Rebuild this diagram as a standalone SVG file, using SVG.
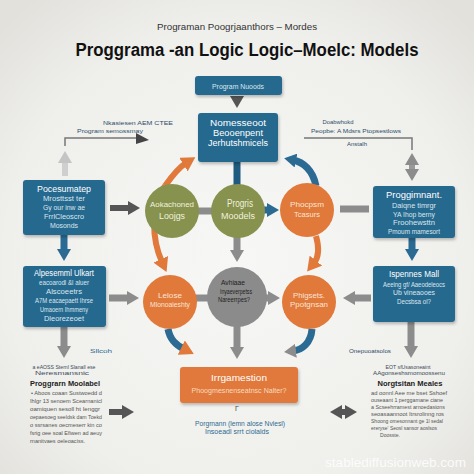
<svg xmlns="http://www.w3.org/2000/svg" width="474" height="474" viewBox="0 0 474 474">
<defs>
<radialGradient id="bg" cx="50%" cy="55%" r="70%">
<stop offset="0" stop-color="#f7f7f5"/>
<stop offset="0.7" stop-color="#efefec"/>
<stop offset="1" stop-color="#e2e1dc"/>
</radialGradient>
<marker id="ag" markerUnits="userSpaceOnUse" markerWidth="13" markerHeight="14" refX="3" refY="7" orient="auto"><path d="M0,0 L12,7 L0,14 z" fill="#8c8c8c"/></marker>
<marker id="ad" markerUnits="userSpaceOnUse" markerWidth="13" markerHeight="14" refX="3" refY="7" orient="auto"><path d="M0,0 L12,7 L0,14 z" fill="#555"/></marker>
<marker id="ab" markerUnits="userSpaceOnUse" markerWidth="13" markerHeight="14" refX="3" refY="7" orient="auto"><path d="M0,0 L12,7 L0,14 z" fill="#2b6a93"/></marker>
<marker id="ao" markerUnits="userSpaceOnUse" markerWidth="15" markerHeight="16" refX="3" refY="8" orient="auto"><path d="M0,0 L14,8 L0,16 z" fill="#e0793a"/></marker>
<marker id="al" markerUnits="userSpaceOnUse" markerWidth="13" markerHeight="14" refX="3" refY="7" orient="auto"><path d="M0,0 L12,7 L0,14 z" fill="#c4c4c4"/></marker>
<filter id="sh" x="-10%" y="-10%" width="130%" height="130%"><feDropShadow dx="1" dy="2" stdDeviation="1.5" flood-color="#000" flood-opacity="0.25"/></filter>
</defs>
<style>
text{font-family:"Liberation Sans",Arial,sans-serif;}
.box{fill:#27698f;filter:url(#sh);}
.bt{fill:#ffffff;font-size:8.5px;text-anchor:middle;}
.bb{fill:#dbe6ee;font-size:6.5px;text-anchor:middle;}
.ct{fill:#f1f1df;text-anchor:middle;}
.ot{fill:#fbe5d4;text-anchor:middle;}
.sm{fill:#2f4d66;font-size:6px;text-anchor:middle;}
.tx{fill:#555;font-size:5px;}
.hd{fill:#222;font-size:8px;font-weight:bold;text-anchor:middle;}
.sg{stroke:#8c8c8c;stroke-width:7;fill:none;}
.sd{stroke:#555;stroke-width:6;fill:none;}
.sb{stroke:#2b6a93;stroke-width:7;fill:none;}
.so{stroke:#e0793a;stroke-width:6;fill:none;}
</style>
<rect width="474" height="474" fill="url(#bg)"/>

<g id="title">
<text x="237" y="30" font-size="9" fill="#333" text-anchor="middle" textLength="160" lengthAdjust="spacingAndGlyphs">Programan Poogrjaanthors – Mordes</text>
<text x="247" y="56" font-size="17.5" font-weight="bold" fill="#111" text-anchor="middle" textLength="343" lengthAdjust="spacingAndGlyphs">Proggrama -an Logic Logic–Moelc:  Models</text>
</g>

<g id="connectors">
<line x1="237" y1="96" x2="237" y2="99" class="sd" marker-end="url(#ad)"/>
<polyline points="65,146 65,138 137,138" fill="none" stroke="#777" stroke-width="1.5"/>
<path d="M136,133 L149,140 L136,144 z" fill="#444"/>
<line x1="65" y1="176" x2="65" y2="160" stroke="#cfcfcf" stroke-width="6" marker-end="url(#al)"/>
<polyline points="304,138 412,138 412,150" fill="none" stroke="#777" stroke-width="1.5"/>
<line x1="412" y1="166" x2="412" y2="162" stroke="#999" stroke-width="6" marker-end="url(#ag)"/>
<line x1="412" y1="166" x2="412" y2="172" stroke="#999" stroke-width="6" marker-end="url(#ag)"/>
<line x1="237" y1="160" x2="237" y2="186" stroke="#1f5a80" stroke-width="7"/>
<path d="M165,186 C172,176 178,168 186,163" class="so" marker-end="url(#ao)"/>
<path d="M165,186 C150,205 152,240 162,262" class="so" marker-end="url(#ao)"/>
<path d="M316,186 C313,170 303,162 293,160" class="sb" marker-end="url(#ab)"/>
<path d="M316,236 C320,250 318,258 314,263" class="so" marker-end="url(#ao)"/>
<path d="M168,329 C170,340 176,345 184,349" class="sb" stroke-width="6" marker-end="url(#ao)"/>
<path d="M312,329 C311,343 302,350 293,351" class="sb" stroke-width="6" marker-end="url(#ag)"/>
<line x1="110" y1="208" x2="131" y2="208" class="sd" stroke="#666" marker-end="url(#ad)"/>
<line x1="195" y1="211" x2="214" y2="211" class="sg" stroke="#9a9a9a"/>
<line x1="264" y1="210" x2="270" y2="210" class="sb" marker-end="url(#ab)"/>
<line x1="340" y1="209" x2="369" y2="209" class="sg" stroke="#808080"/>
<line x1="237" y1="236" x2="237" y2="253" class="sg" stroke="#999" marker-end="url(#ag)"/>
<line x1="195" y1="298" x2="210" y2="298" class="sg" stroke="#999"/>
<line x1="266" y1="298" x2="271" y2="298" class="sg" stroke="#999" marker-end="url(#ag)"/>
<line x1="237" y1="326" x2="237" y2="350" class="sg" stroke="#999" marker-end="url(#ag)"/>
<line x1="109" y1="298" x2="130" y2="298" class="sg" stroke="#999" marker-end="url(#ag)"/>
<line x1="371" y1="298" x2="352" y2="298" class="sg" stroke="#999" marker-end="url(#ag)"/>
<line x1="64" y1="234" x2="64" y2="252" class="sb" stroke="#1f5a80" marker-end="url(#ab)"/>
<line x1="412" y1="238" x2="412" y2="252" class="sb" stroke="#1f5a80" marker-end="url(#ab)"/>
<line x1="64" y1="327" x2="64" y2="349" class="sg" stroke="#8f8f8f" marker-end="url(#ag)"/>
<line x1="411" y1="322" x2="411" y2="349" class="sg" stroke="#8f8f8f" marker-end="url(#ag)"/>
<line x1="109" y1="412" x2="125" y2="412" class="sd" marker-end="url(#ad)"/>
<line x1="340" y1="412" x2="348" y2="412" class="sd" marker-end="url(#ad)"/>
<line x1="347" y1="412" x2="339" y2="412" class="sd" marker-end="url(#ad)"/>
</g>

<g id="top-box">
<rect x="195" y="76" width="87" height="19" rx="3" class="box"/>
<text x="238" y="88.5" class="bb" font-size="6.5" textLength="52" lengthAdjust="spacingAndGlyphs">Program Nuoods</text>
</g>

<g id="center-box">
<rect x="198" y="113" width="80" height="49" rx="3" class="box"/>
<text x="238" y="126" class="bt" textLength="56" lengthAdjust="spacingAndGlyphs">Nomesseoot</text>
<text x="238" y="136" class="bt" font-size="8" textLength="50" lengthAdjust="spacingAndGlyphs">Beooenpent</text>
<text x="238" y="146" class="bt" font-size="8" textLength="60" lengthAdjust="spacingAndGlyphs">Jerhutshmicels</text>
</g>

<g id="note-top-left">
<text x="138" y="125" class="sm" textLength="70" lengthAdjust="spacingAndGlyphs">Nkasiesen AEM CTEE</text>
<text x="110" y="133" class="sm" textLength="66" lengthAdjust="spacingAndGlyphs">Program semossmay</text>
</g>

<g id="note-top-right">
<text x="338" y="124" class="sm" font-size="5.5" textLength="31" lengthAdjust="spacingAndGlyphs">Doabwhokd</text>
<text x="356" y="133" class="sm" textLength="90" lengthAdjust="spacingAndGlyphs">Peopbe: A Mdsrs Ptopsestlows</text>
<text x="357" y="146" class="sm" font-size="5.5" textLength="20" lengthAdjust="spacingAndGlyphs">Anstalh</text>
</g>

<g id="left-box-1">
<rect x="23" y="180" width="82" height="55" rx="3" class="box"/>
<text x="64" y="192" class="bt" textLength="54" lengthAdjust="spacingAndGlyphs">Pocesumatep</text>
<text x="64" y="201" class="bb" textLength="42" lengthAdjust="spacingAndGlyphs">Mrosttsst ter</text>
<text x="64" y="210" class="bb" textLength="42" lengthAdjust="spacingAndGlyphs">Gy our inw ae</text>
<text x="64" y="219" class="bb" textLength="40" lengthAdjust="spacingAndGlyphs">FrrlCleoscro</text>
<text x="64" y="228" class="bb" textLength="28" lengthAdjust="spacingAndGlyphs">Mosonds</text>
</g>

<g id="left-box-2">
<rect x="23" y="266" width="83" height="61" rx="3" class="box"/>
<text x="64" y="276" class="bt" font-size="8" textLength="60" lengthAdjust="spacingAndGlyphs">Alpesemml Ulkart</text>
<text x="64" y="285" class="bb" textLength="50" lengthAdjust="spacingAndGlyphs">eacoarodl &amp;l aluer</text>
<text x="64" y="294" class="bb" textLength="36" lengthAdjust="spacingAndGlyphs">Alscoeetrs</text>
<text x="64" y="303" class="bb" textLength="58" lengthAdjust="spacingAndGlyphs">A7M eacaepaett Ihrse</text>
<text x="64" y="312" class="bb" textLength="48" lengthAdjust="spacingAndGlyphs">Umaoern Ihmmeny</text>
<text x="64" y="321" class="bb" textLength="40" lengthAdjust="spacingAndGlyphs">Dleorezeoet</text>
</g>

<g id="right-box-1">
<rect x="373" y="186" width="82" height="52" rx="3" class="box"/>
<text x="414" y="198" class="bt" textLength="56" lengthAdjust="spacingAndGlyphs">Proggimnant.</text>
<text x="414" y="208" class="bb" textLength="44" lengthAdjust="spacingAndGlyphs">Daiqne timrgr</text>
<text x="414" y="217" class="bb" textLength="42" lengthAdjust="spacingAndGlyphs">YA Ihop berny</text>
<text x="414" y="225" class="bb" textLength="42" lengthAdjust="spacingAndGlyphs">Froohewsttn</text>
<text x="414" y="234" class="bb" textLength="52" lengthAdjust="spacingAndGlyphs">Pmoum mamesort</text>
</g>

<g id="right-box-2">
<rect x="373" y="266" width="82" height="56" rx="3" class="box"/>
<text x="414" y="277" class="bt" font-size="8" textLength="50" lengthAdjust="spacingAndGlyphs">Ispennes Mall</text>
<text x="414" y="287" class="bb" textLength="62" lengthAdjust="spacingAndGlyphs">Aeeing gf/ Aaeodeleocs</text>
<text x="414" y="295" class="bb" textLength="42" lengthAdjust="spacingAndGlyphs">Ub vineaooes</text>
<text x="414" y="304" class="bb" textLength="34" lengthAdjust="spacingAndGlyphs">Decsbsa ol?</text>
</g>

<g id="green-1">
<circle cx="172" cy="211" r="27" fill="#86924e"/>
<text x="172" y="207" class="ct" font-size="6.5" textLength="44" lengthAdjust="spacingAndGlyphs">Aokachoned</text>
<text x="172" y="219" class="ct" font-size="9" textLength="26" lengthAdjust="spacingAndGlyphs">Loojgs</text>
</g>

<g id="green-2">
<circle cx="238" cy="211" r="27" fill="#86924e"/>
<text x="240" y="207" class="ct" font-size="10" textLength="26" lengthAdjust="spacingAndGlyphs">Progris</text>
<text x="238" y="219" class="ct" font-size="8.5" textLength="34" lengthAdjust="spacingAndGlyphs">Moodels</text>
</g>

<g id="orange-1">
<circle cx="307" cy="210" r="27" fill="#e0793a"/>
<text x="307" y="207" class="ot" font-size="8" textLength="34" lengthAdjust="spacingAndGlyphs">Phocpsm</text>
<text x="307" y="217" class="ot" font-size="7" textLength="26" lengthAdjust="spacingAndGlyphs">Tcasurs</text>
</g>

<g id="gray-center">
<circle cx="237" cy="297" r="30" fill="#8b8b8b"/>
<text x="233" y="285" fill="#1e1e1e" font-size="6.5" text-anchor="middle" textLength="24" lengthAdjust="spacingAndGlyphs">Avhiaae</text>
<text x="236" y="294" fill="#1e1e1e" font-size="6.5" text-anchor="middle" textLength="32" lengthAdjust="spacingAndGlyphs">Inyaeverpetss</text>
<text x="234" y="302" fill="#1e1e1e" font-size="6.5" text-anchor="middle" textLength="32" lengthAdjust="spacingAndGlyphs">Nareerrpes?</text>
</g>

<g id="orange-2">
<circle cx="170" cy="302" r="27" fill="#e0793a"/>
<text x="170" y="298" class="ot" font-size="7" textLength="24" lengthAdjust="spacingAndGlyphs">Lelose</text>
<text x="170" y="307" class="ot" font-size="6.5" textLength="40" lengthAdjust="spacingAndGlyphs">Mlonoaieshty</text>
</g>

<g id="orange-3">
<circle cx="309" cy="302" r="27" fill="#e0793a"/>
<text x="309" y="298" class="ot" font-size="7.5" textLength="32" lengthAdjust="spacingAndGlyphs">Phigsets.</text>
<text x="309" y="307" class="ot" font-size="7" textLength="38" lengthAdjust="spacingAndGlyphs">Ppotgnsan</text>
</g>

<g id="bottom-box">
<rect x="180" y="367" width="118" height="36" rx="3" fill="#e0793a" filter="url(#sh)"/>
<text x="239" y="381" fill="#fff" font-size="8.5" text-anchor="middle" textLength="56" lengthAdjust="spacingAndGlyphs">Irrgamestion</text>
<text x="239" y="393" fill="#fbd9bf" font-size="7" text-anchor="middle" textLength="95" lengthAdjust="spacingAndGlyphs">Phoogmesnenseatnsc Nalter?</text>
</g>

<g id="bottom-center-note">
<text x="237" y="411" fill="#444" font-size="7" text-anchor="middle">Γ</text>
<text x="240" y="426" fill="#2f6a90" font-size="6.5" text-anchor="middle" textLength="90" lengthAdjust="spacingAndGlyphs">Porgrnann (lemn alose Nvlesl)</text>
<text x="237" y="434" fill="#2f6a90" font-size="6.5" text-anchor="middle" textLength="64" lengthAdjust="spacingAndGlyphs">Insoeadl srrt ciolalds</text>
</g>

<g id="left-labels">
<text x="101" y="353" fill="#2f6a90" font-size="6" text-anchor="middle" textLength="22" lengthAdjust="spacingAndGlyphs">Sllcoh</text>
<text x="64" y="369" fill="#3a4a58" font-size="5" text-anchor="middle" textLength="63" lengthAdjust="spacingAndGlyphs">a eAOSS Sternl Slanall ese</text>
<text x="62" y="375" fill="#3a4a58" font-size="5" text-anchor="middle" textLength="54" lengthAdjust="spacingAndGlyphs">Neresmansnic</text>
<text x="65" y="386" class="hd" textLength="70" lengthAdjust="spacingAndGlyphs">Proggrarn Moolabel</text>
<text x="31" y="395" class="tx" textLength="71" lengthAdjust="spacingAndGlyphs">•  Aboos  coaan  Sustwoedd d</text>
<text x="30" y="403" class="tx" textLength="72" lengthAdjust="spacingAndGlyphs">Ihlgr 13 senoem Scearnanicl</text>
<text x="30" y="411" class="tx" textLength="70" lengthAdjust="spacingAndGlyphs">oamiquen sesoll ht Ienggr</text>
<text x="30" y="419" class="tx" textLength="72" lengthAdjust="spacingAndGlyphs">oepaesoeg seeldsk dam Toekd</text>
<text x="30" y="427" class="tx" textLength="72" lengthAdjust="spacingAndGlyphs">o ssrsanes oecmeserr kin co</text>
<text x="30" y="435" class="tx" textLength="72" lengthAdjust="spacingAndGlyphs">fsrig oee soal Efiwen ad  aeuy</text>
<text x="30" y="443" class="tx" textLength="55" lengthAdjust="spacingAndGlyphs">rnanitvaes oeleoaciss.</text>
</g>

<g id="right-labels">
<text x="370" y="353" fill="#2f4d66" font-size="6" text-anchor="middle" textLength="42" lengthAdjust="spacingAndGlyphs">Onepuoatsolos</text>
<text x="408" y="369" fill="#3a4a58" font-size="5" text-anchor="middle" textLength="45" lengthAdjust="spacingAndGlyphs">EOT sfUsasoneaint</text>
<text x="409" y="375" fill="#3a4a58" font-size="5" text-anchor="middle" textLength="72" lengthAdjust="spacingAndGlyphs">AAgonseshsmomoossenu</text>
<text x="410" y="386" class="hd" textLength="65" lengthAdjust="spacingAndGlyphs">Norgtsitan Meales</text>
<text x="371" y="395" class="tx" textLength="76" lengthAdjust="spacingAndGlyphs">ad  oonnl Aee  me  bset Sshoef</text>
<text x="371" y="402" class="tx" textLength="72" lengthAdjust="spacingAndGlyphs">ouseaant 1 perggamane ciane</text>
<text x="371" y="409" class="tx" textLength="74" lengthAdjust="spacingAndGlyphs">a Scseehrramest arnoedasions</text>
<text x="371" y="416" class="tx" textLength="73" lengthAdjust="spacingAndGlyphs">seoasaannoot Itrsrolinng  ros</text>
<text x="371" y="423" class="tx" textLength="72" lengthAdjust="spacingAndGlyphs">Shoong omesonnant ge  1l  sedal</text>
<text x="371" y="430" class="tx" textLength="66" lengthAdjust="spacingAndGlyphs">ereryse' Seosl sansor aoslsos</text>
<text x="380" y="437" class="tx" textLength="20" lengthAdjust="spacingAndGlyphs">Doosste.</text>
</g>

<g id="watermark">
<text x="466" y="467" fill="#ffffff" fill-opacity="0.85" font-size="13" text-anchor="end" textLength="141" lengthAdjust="spacingAndGlyphs">stablediffusionweb.com</text>
</g>
</svg>
